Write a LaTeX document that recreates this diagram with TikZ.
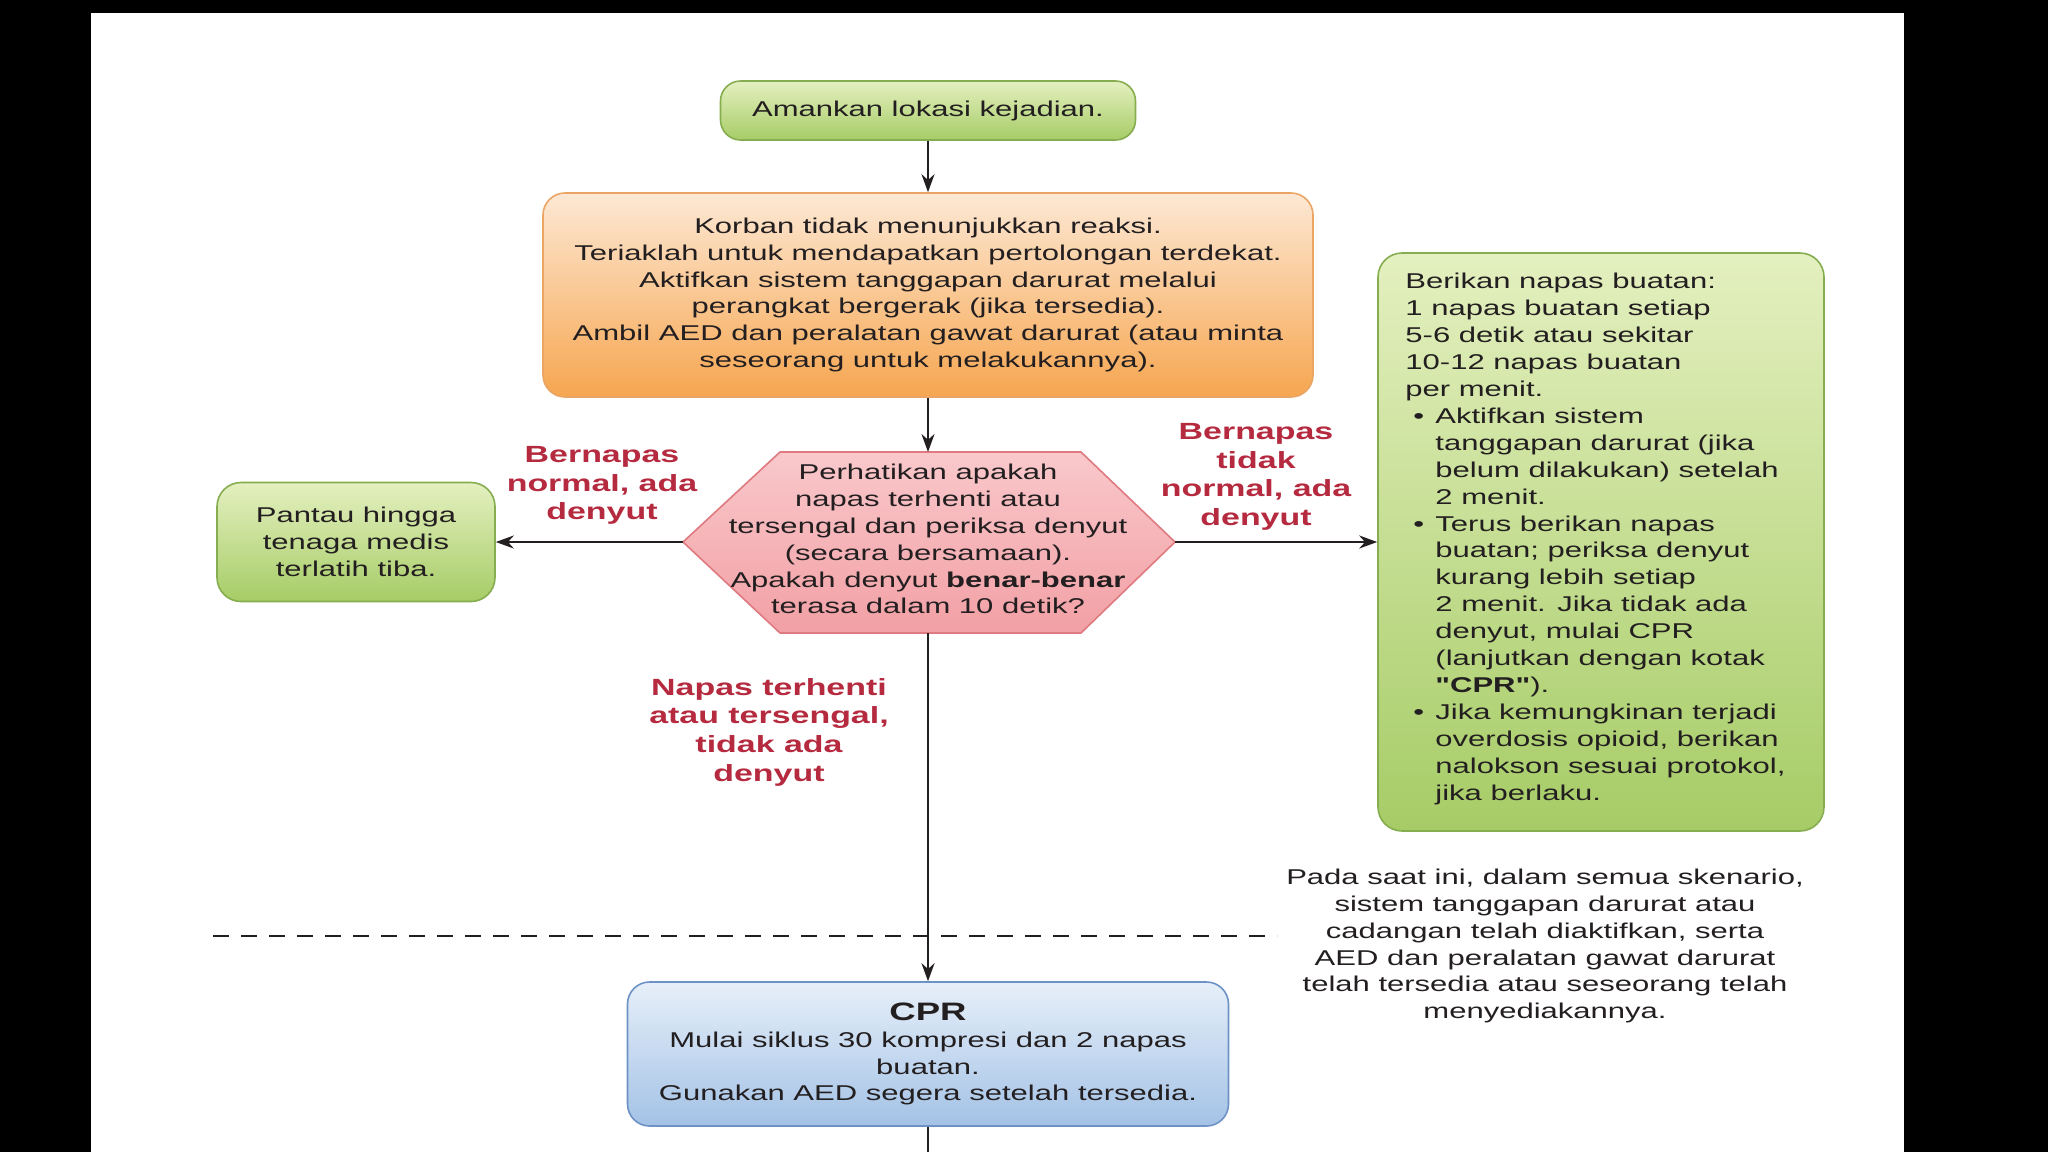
\documentclass[tikz,border=0pt]{standalone}
\usepackage{fontspec}
\setmainfont{Liberation Sans}[FakeStretch=1.45]
\newfontfamily\plainq{Liberation Sans}[FakeStretch=1.45]
\usetikzlibrary{arrows.meta}
\definecolor{grnT}{HTML}{E4F0C0}
\definecolor{grnB}{HTML}{A6CC66}
\definecolor{grnD}{HTML}{86AD4F}
\definecolor{orgT}{HTML}{FDE8D4}
\definecolor{orgB}{HTML}{F6A650}
\definecolor{orgD}{HTML}{EAA564}
\definecolor{pnkT}{HTML}{F9C8CB}
\definecolor{pnkB}{HTML}{F2A0A5}
\definecolor{pnkD}{HTML}{DE7A80}
\definecolor{bluT}{HTML}{E6EFF9}
\definecolor{bluB}{HTML}{A4C2E6}
\definecolor{bluD}{HTML}{6D93C6}
\definecolor{lblred}{HTML}{B52A3F}
\definecolor{ink}{HTML}{231F20}
\newcommand{\mainsz}{\fontsize{10.7}{13.45}\selectfont}
\newcommand{\lblsz}{\fontsize{11.7}{14.35}\selectfont\bfseries}
\begin{document}
\begin{tikzpicture}[x=0.5pt,y=-0.5pt,
  box/.style={draw, line width=0.8pt, inner sep=0pt, align=center, font=\mainsz, text=ink},
  greenbox/.style={box, rounded corners=10pt, draw=grnD, top color=grnT, bottom color=grnB},
  orangebox/.style={box, rounded corners=11pt, draw=orgD, top color=orgT, bottom color=orgB},
  bluebox/.style={box, rounded corners=11pt, draw=bluD, top color=bluT, bottom color=bluB},
  txt/.style={inner sep=0pt, font=\mainsz, text=ink},
  lbl/.style={inner sep=0pt, align=center, font=\lblsz, text=lblred},
  arr/.style={line width=1.2pt, draw=ink, -{Stealth[length=9pt,width=6.5pt]}},
  conn/.style={line width=1.2pt, draw=ink}
]
\useasboundingbox (0,0) rectangle (2048,1152);
\fill[black] (0,0) rectangle (2048,1152);
\fill[white] (91,13) rectangle (1904,1152);

% boxes
\node[greenbox, minimum width=207.5pt, minimum height=29.5pt] (start) at (928,110.5) {Amankan lokasi kejadian.};
\node[orangebox, minimum width=385pt, minimum height=102pt] (resp) at (928,295)
  {Korban tidak menunjukkan reaksi.\\Teriaklah untuk mendapatkan pertolongan terdekat.\\Aktifkan sistem tanggapan darurat melalui\\perangkat bergerak (jika tersedia).\\Ambil AED dan peralatan gawat darurat (atau minta\\seseorang untuk melakukannya).};
\node[greenbox, rounded corners=12pt, minimum width=139pt, minimum height=59.5pt] (mon) at (356,542)
  {Pantau hingga\\tenaga medis\\terlatih tiba.};
\node[greenbox, rounded corners=12pt, minimum width=223pt, minimum height=289pt] (rb) at (1601,542) {};
\node[txt, anchor=west, align=left] (rbtext) at (1405,539)
  {Berikan napas buatan:\\1 napas buatan setiap\\5-6 detik atau sekitar\\10-12 napas buatan\\per menit.\\
  \makebox[15pt][l]{\hspace{4pt}\textbullet}Aktifkan sistem\\
  \hspace*{15pt}tanggapan darurat (jika\\
  \hspace*{15pt}belum dilakukan) setelah\\
  \hspace*{15pt}2 menit.\\
  \makebox[15pt][l]{\hspace{4pt}\textbullet}Terus berikan napas\\
  \hspace*{15pt}buatan; periksa denyut\\
  \hspace*{15pt}kurang lebih setiap\\
  \hspace*{15pt}2 menit. Jika tidak ada\\
  \hspace*{15pt}denyut, mulai CPR\\
  \hspace*{15pt}(lanjutkan dengan kotak\\
  \hspace*{15pt}{\plainq\bfseries "CPR"}).\\
  \makebox[15pt][l]{\hspace{4pt}\textbullet}Jika kemungkinan terjadi\\
  \hspace*{15pt}overdosis opioid, berikan\\
  \hspace*{15pt}nalokson sesuai protokol,\\
  \hspace*{15pt}jika berlaku.};
\node[bluebox, minimum width=300.5pt, minimum height=72pt] (cpr) at (928,1054)
  {{\fontsize{12.6}{13.45}\selectfont\bfseries CPR}\\Mulai siklus 30 kompresi dan 2 napas\\buatan.\\Gunakan AED segera setelah tersedia.};

% hexagon
\coordinate (hL) at (683,542);
\coordinate (hR) at (1175,542);
\coordinate (hT) at (928,452);
\coordinate (hB) at (928,633);
\path[draw=pnkD, line width=0.8pt, top color=pnkT, bottom color=pnkB]
  (hL) -- (780,452) -- (1081,452) -- (hR) -- (1081,633) -- (780,633) -- cycle;
\node[txt, align=center] (hex) at (928,539)
  {Perhatikan apakah\\napas terhenti atau\\tersengal dan periksa denyut\\(secara bersamaan).\\Apakah denyut \textbf{benar-benar}\\terasa dalam 10 detik?};

% labels
\node[lbl] (lblL) at (602,485.5) {Bernapas\\normal, ada\\denyut};
\node[lbl] (lblR) at (1256,477) {Bernapas\\tidak\\normal, ada\\denyut};
\node[lbl] (lblD) at (769,732) {Napas terhenti\\atau tersengal,\\tidak ada\\denyut};

\node[txt, align=center] (note) at (1545,946)
  {Pada saat ini, dalam semua skenario,\\sistem tanggapan darurat atau\\cadangan telah diaktifkan, serta\\AED dan peralatan gawat darurat\\telah tersedia atau seseorang telah\\menyediakannya.};

% dashed line
\coordinate (dA) at (213,936);
\coordinate (dB) at (1277,936);
\draw[line width=1.4pt, draw=ink, dash pattern=on 8pt off 6pt] (dA) -- (dB);

% connectors
\draw[arr] (start.south) -- (resp.north);
\draw[arr] (resp.south) -- (hT);
\draw[arr] (hL) -- (mon.east);
\draw[arr] (hR) -- (rb.west);
\draw[arr] (hB) -- (cpr.north);
\coordinate (bot) at (928,1152);
\draw[conn] (cpr.south) -- (bot);
\end{tikzpicture}
\end{document}
